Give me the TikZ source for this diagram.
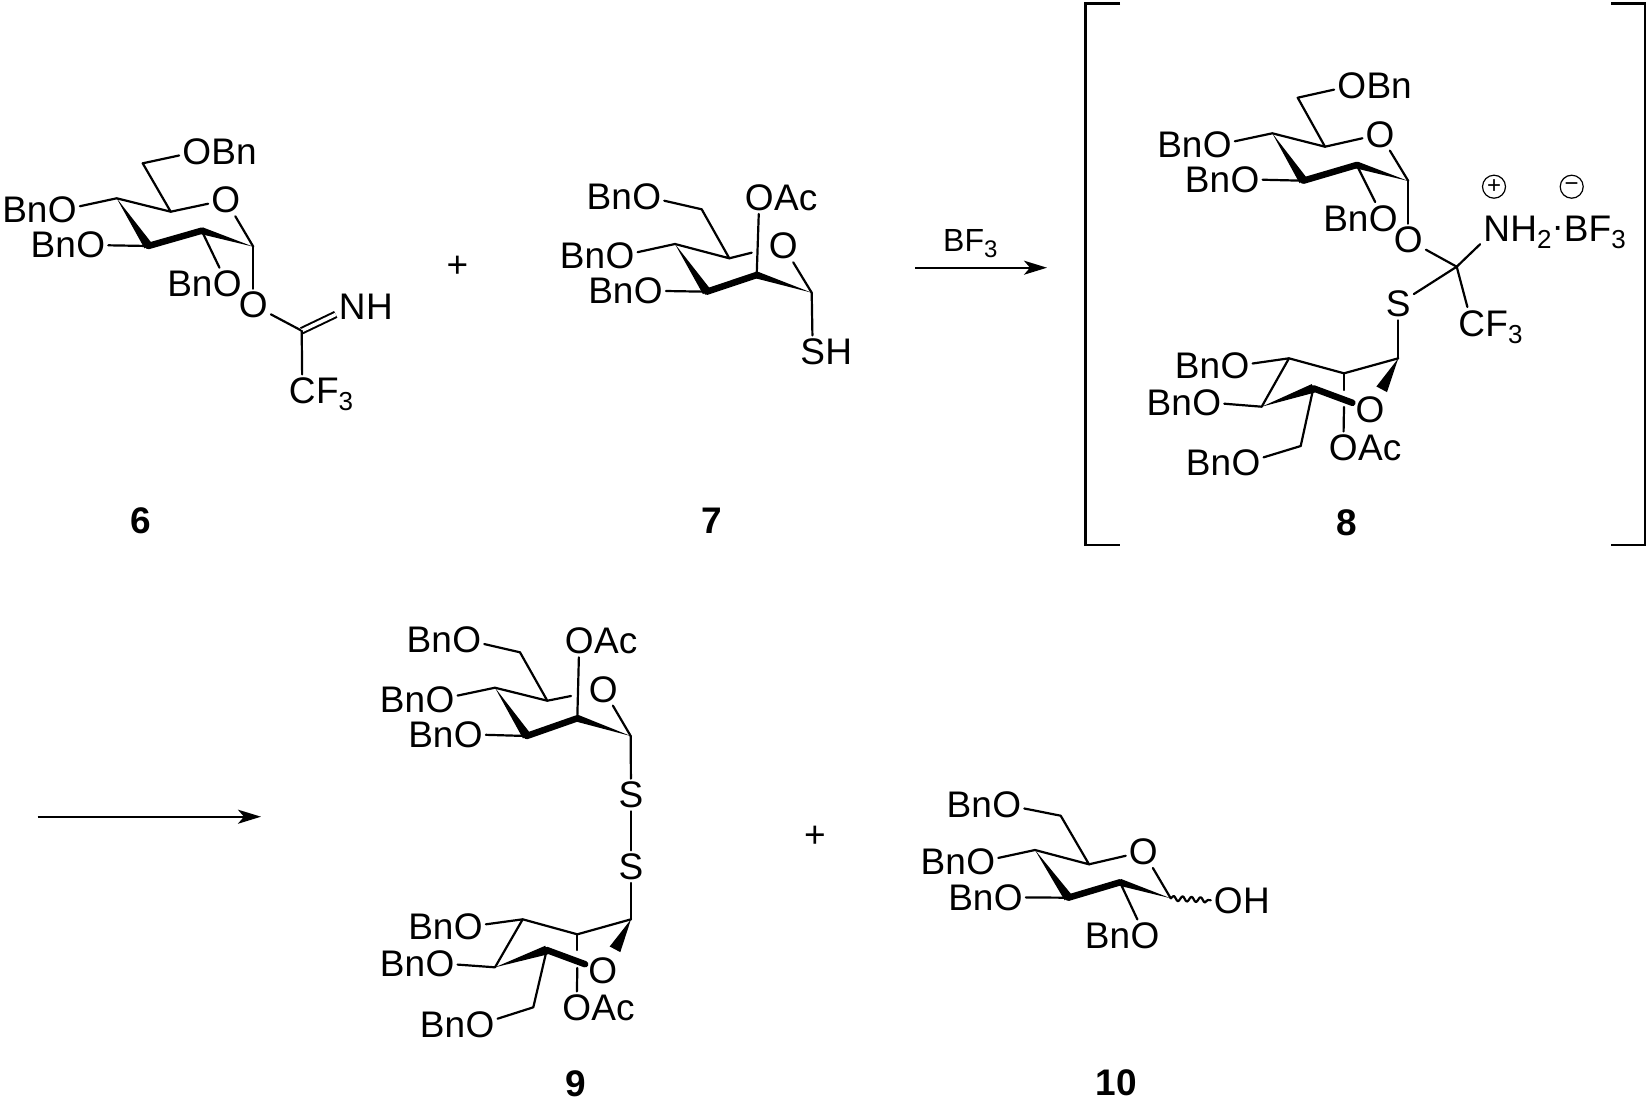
\documentclass[tikz,border=0pt]{standalone}
\usepackage{fontspec}
\setmainfont{Liberation Sans}
\usetikzlibrary{arrows.meta,calc,positioning,decorations.pathmorphing}
\tikzset{
	atom/.style={font=\fontsize{37}{37}\selectfont,inner sep=3pt},
	tailr/.style={atom,inner sep=0pt,base right=-3pt of #1},
	taill/.style={atom,inner sep=0pt,base left=-3pt of #1},
	bond/.style={line width=2.2pt,line cap=round,line join=round},
	boldbond/.style={line width=6.5pt,line cap=round},
	rxnarrow/.style={line width=2.2pt,-{Stealth[length=23pt,width=14pt,inset=6pt]}},
	cpdlabel/.style={font=\fontsize{37}{37}\selectfont\bfseries,inner sep=0pt},
	bracket/.style={line width=2.6pt,line join=miter},
	charge/.style={circle,draw,line width=1.2pt,minimum size=23pt,inner sep=0pt,font=\fontsize{24}{24}\selectfont}
}
\newcommand{\lowidx}[1]{\raisebox{-7pt}{\fontsize{26}{26}\selectfont #1}}
\newcommand{\wedgebond}[3]{\fill (#1) -- ($(#2)!#3!90:(#1)$) -- ($(#2)!#3!-90:(#1)$) -- cycle;}
% ring with the oxygen at the back right, both bonds of the oxygen whole
\newcommand{\backring}[1]{
	\draw[bond] (#1o6) -- (#1c6) -- (#1c5) -- (#1c4) -- (#1o4);
	\draw[bond] (#1c5) -- (#1o);
	\draw[bond] (#1o) -- (#1c1);
	\draw[bond] (#1c3) -- (#1o3);
	\wedgebond{#1c4}{#1c3}{4.5pt}
	\draw[boldbond] (#1c3) -- (#1c2);
	\wedgebond{#1c1}{#1c2}{3.5pt}
	\draw[bond] (#1c2) -- (#1o2);
}
% same ring with O2 axial, it cuts the C5-O bond
\newcommand{\axialring}[1]{
	\draw[bond] (#1o6) -- (#1c6) -- (#1c5) -- (#1c4) -- (#1o4);
	\draw[bond] (#1c5) -- (#1g);
	\draw[bond] (#1o) -- (#1c1);
	\draw[bond] (#1c3) -- (#1o3);
	\wedgebond{#1c4}{#1c3}{4.5pt}
	\draw[boldbond] (#1c3) -- (#1c2);
	\wedgebond{#1c1}{#1c2}{3.5pt}
	\draw[bond] (#1c2) -- (#1o2);
}
% ring turned over, below a sulfur
\newcommand{\flipring}[1]{
	\draw[bond] (#1c1) -- (#1c2) -- (#1c3) -- (#1c4) -- (#1o4);
	\draw[bond] (#1c3) -- (#1o3);
	\wedgebond{#1c4}{#1c5}{4.5pt}
	\draw[boldbond] (#1c5) -- (#1o);
	\wedgebond{#1c1}{#1w}{6pt}
	\draw[bond] (#1c5) -- (#1c6) -- (#1o6);
	\draw[bond] (#1c2) -- (#1ga);
	\draw[bond] (#1gb) -- (#1o2);
}
\begin{document}
\begin{tikzpicture}[x=1pt,y=-1pt]
	\useasboundingbox (0,0) rectangle (1649,1101);

	% compound 6
	\coordinate (sac6) at (142.7,163.3);
	\coordinate (sac5) at (170.7,211.7);
	\coordinate (sac4) at (116.7,198.3);
	\coordinate (sac3) at (148.3,246);
	\coordinate (sac2) at (201.7,230.7);
	\coordinate (sac1) at (253.3,246.7);
	\coordinate (saci) at (301.7,330.7);
	\node[atom] (sao6) at (196.7,151.7) {O};
	\node[tailr=sao6] (sabn6) {Bn};
	\node[atom] (sao) at (225.7,200) {O};
	\node[atom] (sao4) at (62.3,210) {O};
	\node[taill=sao4] (sabn4) {Bn};
	\node[atom] (sao3) at (90.7,245) {O};
	\node[taill=sao3] (sabn3) {Bn};
	\node[atom] (sao2) at (227.3,284) {O};
	\node[taill=sao2] (sabn2) {Bn};
	\node[atom] (sao1) at (253.3,305) {O};
	\node[atom] (san) at (352.3,306.5) {N};
	\node[tailr=san] (sah) {H};
	\node[atom] (sac) at (302.3,390.7) {C};
	\node[tailr=sac] (saf) {F\lowidx{3}};
	\backring{sa}
	\draw[bond] (sac1) -- (sao1);
	\draw[bond] (sao1) -- (saci);
	\draw[line width=2pt,double,double distance=3.5pt] (saci) -- (san);
	\draw[bond] (saci) -- (sac);
	\node[cpdlabel] (lab6) at (141,521) {6};

	\node[atom] (plusa) at (457.5,267) {+};

	% compound 7
	\coordinate (sbc6) at (701.7,209.3);
	\coordinate (sbc5) at (729.3,258.3);
	\coordinate (sbg) at (751.7,252.7);
	\coordinate (sbc4) at (675,244);
	\coordinate (sbc3) at (706.7,291.7);
	\coordinate (sbc2) at (756.7,275);
	\coordinate (sbc1) at (811.7,292.7);
	\node[atom] (sbo6) at (646.7,196.7) {O};
	\node[taill=sbo6] (sbbn6) {Bn};
	\node[atom] (sbo) at (783.3,246) {O};
	\node[atom] (sbo4) at (620,256) {O};
	\node[taill=sbo4] (sbbn4) {Bn};
	\node[atom] (sbo3) at (648.3,290.7) {O};
	\node[taill=sbo3] (sbbn3) {Bn};
	\node[atom] (sbo2) at (759.3,197.7) {O};
	\node[tailr=sbo2] (sbac) {Ac};
	\node[atom] (sbs) at (812.7,351.7) {S};
	\node[tailr=sbs] (sbh) {H};
	\axialring{sb}
	\draw[bond] (sbc1) -- (sbs);
	\node[cpdlabel] (lab7) at (712,521) {7};

	% first arrow
	\coordinate (arra) at (915,267.7);
	\coordinate (arrb) at (1047,267.7);
	\draw[rxnarrow] (arra) -- (arrb);
	\node[font=\fontsize{32}{32}\selectfont,inner sep=0pt,anchor=base west] (bfa) at (943,251.7) {BF\raisebox{-6pt}{\fontsize{24}{24}\selectfont 3}};

	% brackets
	\coordinate (bla) at (1120,3.3);
	\coordinate (blb) at (1085.7,3.3);
	\coordinate (blc) at (1085.7,545);
	\coordinate (bld) at (1120,545);
	\coordinate (bra) at (1611,3.3);
	\coordinate (brb) at (1645,3.3);
	\coordinate (brc) at (1645,545);
	\coordinate (brd) at (1611,545);
	\draw[bracket] (bla) -- (blb) -- (blc) -- (bld);
	\draw[bracket] (bra) -- (brb) -- (brc) -- (brd);

	% compound 8
	\coordinate (scc6) at (1297.7,97.7);
	\coordinate (scc5) at (1325,146.7);
	\coordinate (scc4) at (1272.3,133.3);
	\coordinate (scc3) at (1303.3,180.7);
	\coordinate (scc2) at (1356.7,165);
	\coordinate (scc1) at (1408.3,181);
	\coordinate (scx) at (1456.7,266.7);
	\node[atom] (sco6) at (1351.7,85.7) {O};
	\node[tailr=sco6] (scbn6) {Bn};
	\node[atom] (sco) at (1380,134.3) {O};
	\node[atom] (sco4) at (1217.3,145) {O};
	\node[taill=sco4] (scbn4) {Bn};
	\node[atom] (sco3) at (1245,179.3) {O};
	\node[taill=sco3] (scbn3) {Bn};
	\node[atom] (sco2) at (1383.3,218.3) {O};
	\node[taill=sco2] (scbn2) {Bn};
	\node[atom] (sco1) at (1408.3,240) {O};
	\node[atom] (scn) at (1496.7,228.3) {N};
	\node[tailr=scn] (sch) {H\lowidx{2}\raisebox{3pt}{·}BF\lowidx{3}};
	\node[atom] (scc) at (1471.7,323.3) {C};
	\node[tailr=scc] (scf) {F\lowidx{3}};
	\node[atom] (scs) at (1398.3,304) {S};
	\node[charge] (plusb) at (1494,186.7) {+};
	\node[charge] (minusa) at (1571.7,186.7) {−};
	\backring{sc}
	\draw[bond] (scc1) -- (sco1);
	\draw[bond] (sco1) -- (scx);
	\draw[bond] (scx) -- (scn);
	\draw[bond] (scx) -- (scs);
	\draw[bond] (scx) -- (scc);

	\coordinate (sdc1) at (1398.3,358.3);
	\coordinate (sdc2) at (1344,373.3);
	\coordinate (sdc3) at (1289,358.3);
	\coordinate (sdc4) at (1261.7,406.7);
	\coordinate (sdc5) at (1313.3,388.3);
	\coordinate (sdc6) at (1300.7,446);
	\coordinate (sdw) at (1381.7,389.3);
	\coordinate (sdga) at (1344,390);
	\coordinate (sdgb) at (1344,407);
	\node[atom] (sdo) at (1370,409.3) {O};
	\node[atom] (sdo6) at (1246,462.7) {O};
	\node[taill=sdo6] (sdbn6) {Bn};
	\node[atom] (sdo3) at (1235,366) {O};
	\node[taill=sdo3] (sdbn3) {Bn};
	\node[atom] (sdo4) at (1206.7,402.3) {O};
	\node[taill=sdo4] (sdbn4) {Bn};
	\node[atom] (sdo2) at (1343.3,447.7) {O};
	\node[tailr=sdo2] (sdac) {Ac};
	\flipring{sd}
	\draw[bond] (scs) -- (sdc1);
	\node[cpdlabel] (lab8) at (1347,523) {8};

	% second arrow
	\coordinate (arrc) at (37.7,816.7);
	\coordinate (arrd) at (261,816.7);
	\draw[rxnarrow] (arrc) -- (arrd);

	% compound 9
	\coordinate (sec6) at (520,652.3);
	\coordinate (sec5) at (547.3,700.7);
	\coordinate (seg) at (571,696);
	\coordinate (sec4) at (495,687.7);
	\coordinate (sec3) at (526.7,736);
	\coordinate (sec2) at (577.3,718.3);
	\coordinate (sec1) at (630.7,736);
	\node[atom] (seo6) at (466.7,640) {O};
	\node[taill=seo6] (sebn6) {Bn};
	\node[atom] (seo) at (603.3,689.3) {O};
	\node[atom] (seo4) at (440,699.3) {O};
	\node[taill=seo4] (sebn4) {Bn};
	\node[atom] (seo3) at (468.3,734.3) {O};
	\node[taill=seo3] (sebn3) {Bn};
	\node[atom] (seo2) at (579.3,641) {O};
	\node[tailr=seo2] (seac) {Ac};
	\node[atom] (ses) at (631,795) {S};
	\axialring{se}
	\draw[bond] (sec1) -- (ses);

	\coordinate (sfc1) at (631,919.3);
	\coordinate (sfc2) at (577.3,934.3);
	\coordinate (sfc3) at (522.7,919.3);
	\coordinate (sfc4) at (495,967.3);
	\coordinate (sfc5) at (546.7,950);
	\coordinate (sfc6) at (533.3,1007.3);
	\coordinate (sfw) at (615,949.3);
	\coordinate (sfga) at (577.3,950);
	\coordinate (sfgb) at (577.3,968);
	\node[atom] (sfs) at (631,866.7) {S};
	\node[atom] (sfo) at (602.7,970.7) {O};
	\node[atom] (sfo6) at (480,1024.3) {O};
	\node[taill=sfo6] (sfbn6) {Bn};
	\node[atom] (sfo3) at (468.3,926.7) {O};
	\node[taill=sfo3] (sfbn3) {Bn};
	\node[atom] (sfo4) at (440,963.3) {O};
	\node[taill=sfo4] (sfbn4) {Bn};
	\node[atom] (sfo2) at (576.7,1007.7) {O};
	\node[tailr=sfo2] (sfac) {Ac};
	\flipring{sf}
	\draw[bond] (sfs) -- (sfc1);
	\draw[bond] (ses) -- (sfs);
	\node[cpdlabel] (lab9) at (576,1084) {9};

	\node[atom] (plusc) at (815,837) {+};

	% compound 10
	\coordinate (sgc6) at (1060.7,815.7);
	\coordinate (sgc5) at (1089,864.3);
	\coordinate (sgc4) at (1035,850);
	\coordinate (sgc3) at (1068.3,897.7);
	\coordinate (sgc2) at (1120,882.3);
	\coordinate (sgc1) at (1170.7,898.3);
	\node[atom] (sgo6) at (1006.7,805) {O};
	\node[taill=sgo6] (sgbn6) {Bn};
	\node[atom] (sgo) at (1143.3,851.7) {O};
	\node[atom] (sgo4) at (980.7,861.7) {O};
	\node[taill=sgo4] (sgbn4) {Bn};
	\node[atom] (sgo3) at (1008.3,897.3) {O};
	\node[taill=sgo3] (sgbn3) {Bn};
	\node[atom] (sgo2) at (1145,935.7) {O};
	\node[taill=sgo2] (sgbn2) {Bn};
	\node[atom] (sgo1) at (1228.3,901) {O};
	\node[tailr=sgo1] (sgh) {H};
	\backring{sg}
	\draw[bond,decorate,decoration={snake,segment length=9pt,amplitude=2.5pt}] (sgc1) -- (sgo1);
	\node[cpdlabel] (lab10) at (1116,1083) {10};
\end{tikzpicture}
\end{document}
